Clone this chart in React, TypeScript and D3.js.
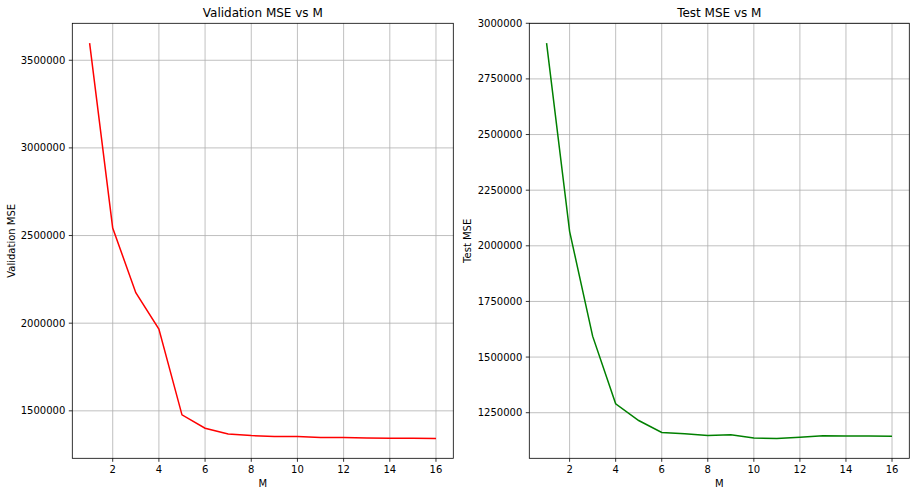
import React from "react";
import * as d3 from "d3";

const M = [1, 2, 3, 4, 5, 6, 7, 8, 9, 10, 11, 12, 13, 14, 15, 16];
const validationMSE = [3598000, 2543000, 2174000, 1966000, 1477000, 1401000, 1368000, 1359000, 1353000, 1353000, 1348000, 1348000, 1345000, 1343000, 1343000, 1342000];
const testMSE = [2911000, 2065000, 1594000, 1290000, 1215000, 1161000, 1156000, 1148000, 1151000, 1136000, 1134000, 1140000, 1146000, 1145000, 1145000, 1144000];
const xTicks = [2, 4, 6, 8, 10, 12, 14, 16];
const validationTicks = [1500000, 2000000, 2500000, 3000000, 3500000];
const testTicks = [1250000, 1500000, 1750000, 2000000, 2250000, 2500000, 2750000, 3000000];

const W = 919;
const H = 496;
const FONT = "DejaVu Sans, sans-serif";

type PanelProps = {
  left: number;
  right: number;
  top: number;
  bottom: number;
  values: number[];
  yTicks: number[];
  color: string;
  title: string;
  ylabel: string;
  ylabelX: number;
};

function Panel({ left, right, top, bottom, values, yTicks, color, title, ylabel, ylabelX }: PanelProps) {
  const xMin = d3.min(M)!;
  const xMax = d3.max(M)!;
  const xm = (xMax - xMin) * 0.05;
  const x = d3.scaleLinear().domain([xMin - xm, xMax + xm]).range([left, right]);
  const yMin = d3.min(values)!;
  const yMax = d3.max(values)!;
  const ym = (yMax - yMin) * 0.05;
  const y = d3.scaleLinear().domain([yMin - ym, yMax + ym]).range([bottom, top]);
  const line = d3
    .line<number>()
    .x((_, i) => x(M[i]))
    .y((d) => y(d));
  const yt = yTicks.filter((t) => y(t) >= top - 0.5 && y(t) <= bottom + 0.5);
  const cx = (left + right) / 2;
  return (
    <g>
      {xTicks.map((t) => (
        <line key={"gx" + t} x1={x(t)} x2={x(t)} y1={top} y2={bottom} stroke="#b0b0b0" strokeWidth={0.8} />
      ))}
      {yt.map((t) => (
        <line key={"gy" + t} x1={left} x2={right} y1={y(t)} y2={y(t)} stroke="#b0b0b0" strokeWidth={0.8} />
      ))}
      <path d={line(values)!} fill="none" stroke={color} strokeWidth={1.5} />
      <rect x={left} y={top} width={right - left} height={bottom - top} fill="none" stroke="#000" strokeWidth={0.8} />
      {xTicks.map((t) => (
        <g key={"tx" + t}>
          <line x1={x(t)} x2={x(t)} y1={bottom} y2={bottom + 3.5} stroke="#000" strokeWidth={0.8} />
          <text x={x(t)} y={bottom + 7} dy="0.76em" textAnchor="middle" fontSize={10} fontFamily={FONT} fill="#000">
            {t}
          </text>
        </g>
      ))}
      {yt.map((t) => (
        <g key={"ty" + t}>
          <line x1={left - 3.5} x2={left} y1={y(t)} y2={y(t)} stroke="#000" strokeWidth={0.8} />
          <text x={left - 7} y={y(t)} dy="0.35em" textAnchor="end" fontSize={10} fontFamily={FONT} fill="#000">
            {t}
          </text>
        </g>
      ))}
      <text x={cx} y={top - 6} textAnchor="middle" fontSize={12} fontFamily={FONT} fill="#000">
        {title}
      </text>
      <text x={cx} y={bottom + 29} textAnchor="middle" fontSize={10} fontFamily={FONT} fill="#000">
        M
      </text>
      <text
        transform={`translate(${ylabelX},${(top + bottom) / 2}) rotate(-90)`}
        textAnchor="middle"
        fontSize={10}
        fontFamily={FONT}
        fill="#000"
      >
        {ylabel}
      </text>
    </g>
  );
}

export default function App() {
  return (
    <svg width={W} height={H} style={{ position: "absolute", left: 0, top: 0, background: "#fff" }}>
      <rect width={W} height={H} fill="#fff" />
      <Panel
        left={72.3}
        right={453.3}
        top={23.3}
        bottom={458.3}
        values={validationMSE}
        yTicks={validationTicks}
        color="#ff0000"
        title="Validation MSE vs M"
        ylabel="Validation MSE"
        ylabelX={15}
      />
      <Panel
        left={529.3}
        right={909.3}
        top={23.3}
        bottom={458.3}
        values={testMSE}
        yTicks={testTicks}
        color="#008000"
        title="Test MSE vs M"
        ylabel="Test MSE"
        ylabelX={471}
      />
    </svg>
  );
}
